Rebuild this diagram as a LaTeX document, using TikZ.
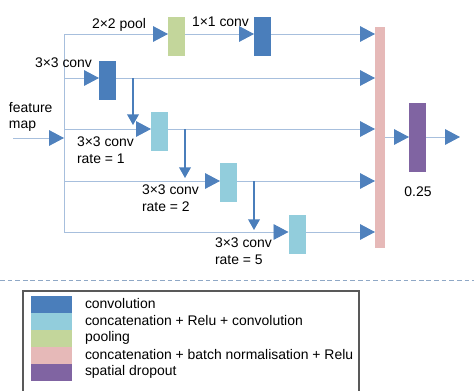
\documentclass[tikz,border=0pt]{standalone}
\usepackage{fontspec}
\setmainfont{Liberation Sans}
\usetikzlibrary{arrows.meta}
\definecolor{convblue}{HTML}{4A7EBB}
\definecolor{catrelu}{HTML}{92CDDC}
\definecolor{poolgreen}{HTML}{C3D69B}
\definecolor{catpink}{HTML}{E6B9B8}
\definecolor{droppurple}{HTML}{8064A2}
\definecolor{linecol}{HTML}{A7BFDD}
\definecolor{tipblue}{HTML}{4F81BD}
\definecolor{sepcol}{HTML}{8FA8C6}
\begin{document}
\begin{tikzpicture}[x=0.03cm, y=-0.03cm]
\tikzset{ inner sep=0pt, outer sep=0pt,
  blk/.style={minimum width=0.51cm, minimum height=1.17cm},
  conv/.style={blk, fill=convblue},
  catconv/.style={blk, fill=catrelu},
  pool/.style={blk, fill=poolgreen},
  line/.style={draw=linecol, line width=0.8pt},
  arr/.style={line, -{Triangle[length=0.45cm, width=0.47cm, color=tipblue]}},
  varr/.style={draw=convblue, line width=1.2pt, -{Triangle[length=0.32cm, width=0.35cm]}},
  lab/.style={font=\fontsize{11.9}{14}\selectfont, align=left, anchor=west},
  swatch/.style={minimum width=1.23cm, minimum height=0.51cm},
}
\useasboundingbox (0,0) rectangle (474,390);

% blocks
\node [pool]    (pool) at (176.5,36.5) {};
\node [conv]    (c11)  at (262.5,36.5) {};
\node [conv]    (c33)  at (107.5,80.5) {};
\node [catconv] (r1)   at (159.5,131.5) {};
\node [catconv] (r2)   at (228.5,182.5) {};
\node [catconv] (r5)   at (297,234.5) {};
\node [fill=catpink, minimum width=0.3cm, minimum height=6.63cm] (cat) at (380,137.5) {};
\node [fill=droppurple, minimum width=0.51cm, minimum height=2.07cm] (drop) at (417.5,137.5) {};

% bus
\coordinate (b1) at (64,34);
\coordinate (b2) at (64,78);
\coordinate (b3) at (64,129);
\coordinate (b4) at (64,181);
\coordinate (b5) at (64,232);
\coordinate (fin) at (13,138);
\coordinate (fbus) at (64,138);
\coordinate (out) at (460,137);

\draw [line] (b1) -- (b5);
\draw [arr] (fin) -- (fbus);

\draw [arr] (b1) -- (pool.west |- b1);
\draw [arr] (pool.east |- b1) -- (c11.west |- b1);
\draw [arr] (c11.east |- b1) -- (cat.west |- b1);

\draw [arr] (b2) -- (c33.west |- b2);
\draw [arr] (c33.east |- b2) -- (cat.west |- b2);

\draw [arr] (b3) -- (r1.west |- b3);
\draw [arr] (r1.east |- b3) -- (cat.west |- b3);

\draw [arr] (b4) -- (r2.west |- b4);
\draw [arr] (r2.east |- b4) -- (cat.west |- b4);

\draw [arr] (b5) -- (r5.west |- b5);
\draw [arr] (r5.east |- b5) -- (cat.west |- b5);

\draw [arr] (cat.east |- out) -- (drop.west |- out);
\draw [arr] (drop.east |- out) -- (out);

% dilated chain
\coordinate (d1a) at (133,78);  \coordinate (d1b) at (133,125);
\coordinate (d2a) at (185,129); \coordinate (d2b) at (185,178);
\coordinate (d3a) at (254,181); \coordinate (d3b) at (254,230);
\draw [varr] (d1a) -- (d1b);
\draw [varr] (d2a) -- (d2b);
\draw [varr] (d3a) -- (d3b);

% labels
\node [lab] (lpool) at (92,25)  {2×2 pool};
\node [lab] (l11)   at (192,22) {1×1 conv};
\node [lab] (l33)   at (35,63)  {3×3 conv};
\node [lab] (lin)   at (9,117)  {feature\\map};
\node [lab] (lr1)   at (77,150) {3×3 conv\\rate = 1};
\node [lab] (lr2)   at (142,198) {3×3 conv\\rate = 2};
\node [lab] (lr5)   at (215,251) {3×3 conv\\rate = 5};
\node [lab, anchor=center] (lp) at (418,192) {0.25};

% separator
\draw [sepcol, line width=0.8pt, dash pattern=on 4pt off 2.5pt] (0,280) -- (474,280);

% legend
\draw [draw=black!65, line width=1pt] (23,395) -- (23,291) -- (359,291) -- (359,395);
\node [swatch, fill=convblue]   (s1) at (51.5,304.5) {};
\node [swatch, fill=catrelu]    (s2) at (51.5,321.5) {};
\node [swatch, fill=poolgreen]  (s3) at (51.5,338.5) {};
\node [swatch, fill=catpink]    (s4) at (51.5,355.5) {};
\node [swatch, fill=droppurple] (s5) at (51.5,372.5) {};
\node [lab] (t1) at (85,303.5) {convolution};
\node [lab] (t2) at (85,320.5) {concatenation + Relu + convolution};
\node [lab] (t3) at (85,337.5) {pooling};
\node [lab] (t4) at (85,354.5) {concatenation + batch normalisation + Relu};
\node [lab] (t5) at (85,371.5) {spatial dropout};

\end{tikzpicture}
\end{document}
